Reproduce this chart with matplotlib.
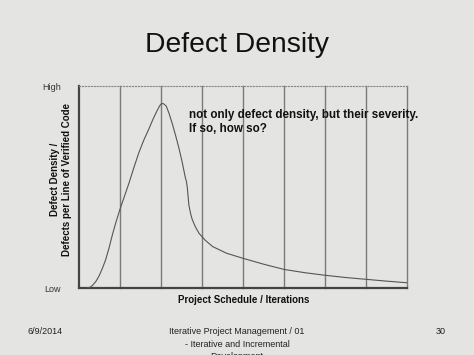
import numpy as np
import matplotlib
matplotlib.use('Agg')
import matplotlib.pyplot as plt

# Defect density curve (x in iterations, y as fraction Low->High)
iteration = [0.20, 0.27, 0.33, 0.41, 0.49, 0.57, 0.65, 0.73, 0.81, 0.90, 1.00,
             1.11, 1.22, 1.34, 1.46, 1.58, 1.71, 1.81, 1.91, 1.97, 2.02, 2.07,
             2.13, 2.20, 2.28, 2.36, 2.44, 2.52, 2.59, 2.62, 2.64, 2.66, 2.68,
             2.72, 2.76, 2.84, 2.93, 3.08, 3.26, 3.60, 4.00, 4.50, 5.00, 5.50,
             6.00, 6.50, 7.00, 7.50, 8.00]
density = [0.000, 0.004, 0.013, 0.032, 0.060, 0.097, 0.140, 0.196, 0.260, 0.325,
           0.390, 0.455, 0.520, 0.597, 0.670, 0.732, 0.790, 0.838, 0.880, 0.903,
           0.914, 0.911, 0.900, 0.862, 0.810, 0.752, 0.690, 0.620, 0.550, 0.527,
           0.500, 0.455, 0.410, 0.370, 0.340, 0.302, 0.270, 0.236, 0.205, 0.172,
           0.147, 0.118, 0.092, 0.076, 0.063, 0.052, 0.043, 0.034, 0.026]
iteration_lines = [1, 2, 3, 4, 5, 6, 7, 8]
ytick_labels = ['Low', 'High']

title = 'Defect Density'
note = 'not only defect density, but their severity.\nIf so, how so?'
xlabel = 'Project Schedule / Iterations'
ylabel = 'Defect Density /\nDefects per Line of Verified Code'
footer_left = '6/9/2014'
footer_mid = 'Iterative Project Management / 01\n- Iterative and Incremental\nDevelopment'
footer_right = '30'

W, H = 474, 355
bg = '#e4e4e2'
narrow = ['Liberation Sans Narrow', 'Liberation Sans', 'DejaVu Sans']
sans = ['Liberation Sans', 'DejaVu Sans']

fig = plt.figure(figsize=(W / 100, H / 100), dpi=100, facecolor=bg)


def px(x, y):
    return x / W, 1 - y / H


l, r, t, b = 79, 407, 86, 288
ax = fig.add_axes([l / W, 1 - b / H, (r - l) / W, (b - t) / H], facecolor=bg)
ax.set_xlim(0, 8)
ax.set_ylim(0, 1)

for xv in iteration_lines:
    ax.axvline(xv, color='#7a7a7a', lw=1.0, zorder=1, clip_on=False)
ax.plot(iteration, density, color='#555555', lw=0.8, zorder=3)

ax.spines['right'].set_visible(False)
ax.spines['top'].set_linestyle(':')
ax.spines['top'].set_color('#888888')
ax.spines['top'].set_linewidth(0.8)
ax.spines['left'].set_color('#444444')
ax.spines['left'].set_linewidth(1.6)
ax.spines['bottom'].set_color('#444444')
ax.spines['bottom'].set_linewidth(1.6)

ax.set_xticks([])
ax.set_yticks([0, 1])
ax.set_yticklabels(ytick_labels, family=sans, fontsize=6.5, color='#333333')
ax.tick_params(axis='y', length=0, pad=13)

fig.text(*px(237, 45), title, ha='center', va='center', fontsize=20.3,
         family=sans, color='#111111')
fig.text(*px(189, 122), note, ha='left', va='center', fontsize=8.4,
         family=sans, fontweight='bold', color='#111111', linespacing=1.2)
fig.text(*px(244, 300), xlabel, ha='center', va='center', fontsize=7,
         family=narrow, fontweight='bold', color='#111111')
fig.text(*px(61, 179), ylabel, ha='center', va='center', rotation=90,
         fontsize=7, family=narrow, fontweight='bold', color='#111111',
         multialignment='center', linespacing=1.35)

fig.text(*px(45, 332), footer_left, ha='center', va='center', fontsize=6.5,
         family=sans, color='#222222')
fig.text(*px(237, 327.5), footer_mid, ha='center', va='top', fontsize=6.5,
         family=sans, color='#222222', linespacing=1.45)
fig.text(*px(441, 332), footer_right, ha='center', va='center', fontsize=6.5,
         family=sans, color='#222222')

fig.savefig('out.png', dpi=100, facecolor=bg)
